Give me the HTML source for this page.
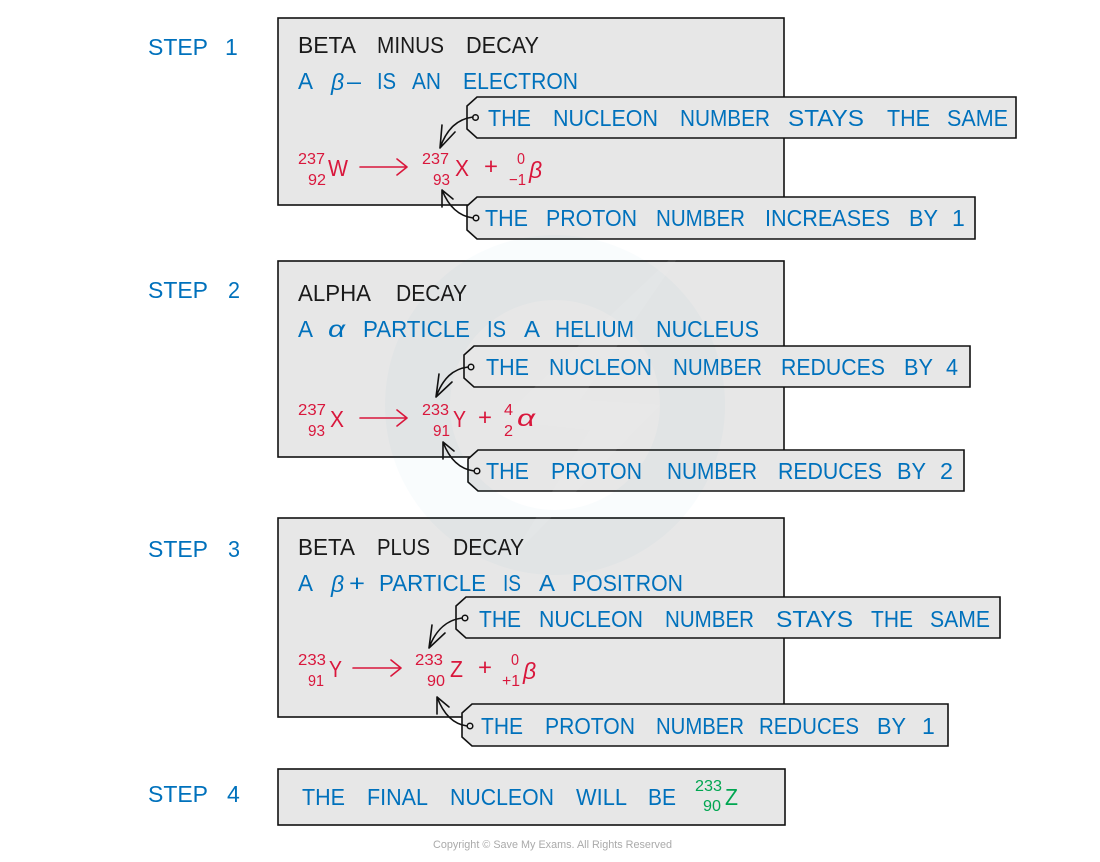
<!DOCTYPE html>
<html><head><meta charset="utf-8"><style>
html,body{margin:0;padding:0;background:#fff;width:1100px;height:862px;overflow:hidden}
svg{display:block}
text{font-family:"Liberation Sans",sans-serif;font-size:23px}
.b text{fill:#0071bc}.k text{fill:#1a1a1a}.r text{fill:#d9173c}.g text{fill:#00a651}
.s{font-size:16px!important}
.box{fill:#e7e7e7;stroke:#111;stroke-width:1.6}
.ln{fill:none;stroke:#111;stroke-width:1.6;stroke-linecap:round;stroke-linejoin:round}
.ar{fill:none;stroke:#d9173c;stroke-width:1.6;stroke-linecap:round;stroke-linejoin:round}
.dot{fill:none;stroke:#111;stroke-width:1.5}
</style></head><body>
<svg width="1100" height="862" viewBox="0 0 1100 862" xmlns="http://www.w3.org/2000/svg">
<rect class="box" x="278" y="18" width="506" height="187"/>
<rect class="box" x="278" y="261" width="506" height="196"/>
<rect class="box" x="278" y="518" width="506" height="199"/>
<rect class="box" x="278" y="769" width="507" height="56"/>
<polygon class="box" points="477,97 1016,97 1016,138 477,138 467,129 467,106"/>
<polygon class="box" points="477,197 975,197 975,239 477,239 467,230 467,206"/>
<polygon class="box" points="474,346 970,346 970,387 474,387 464,378 464,355"/>
<polygon class="box" points="478,450 964,450 964,491 478,491 468,482 468,459"/>
<polygon class="box" points="466,597 1000,597 1000,638 466,638 456,629 456,606"/>
<polygon class="box" points="472,704 948,704 948,746 472,746 462,737 462,713"/>

<g fill="#20a0a8" opacity=".028">
<path fill-rule="evenodd" d="M555 235a170 170 0 1 0 .1 0ZM555 300a105 105 0 1 1 -.1 0Z"/>
</g>
<polygon fill="#fff" opacity=".08" points="690 240 580 400 660 405 510 560 590 430 500 420"/>

<g class="b">
<text x="148" y="55" textLength="60" lengthAdjust="spacingAndGlyphs">STEP</text><text x="225" y="55">1</text>
<text x="148" y="298" textLength="60" lengthAdjust="spacingAndGlyphs">STEP</text><text x="228" y="298" textLength="12" lengthAdjust="spacingAndGlyphs">2</text>
<text x="148" y="557" textLength="60" lengthAdjust="spacingAndGlyphs">STEP</text><text x="228" y="557" textLength="12" lengthAdjust="spacingAndGlyphs">3</text>
<text x="148" y="802" textLength="60" lengthAdjust="spacingAndGlyphs">STEP</text><text x="227" y="802">4</text>

<text x="298" y="89" textLength="15" lengthAdjust="spacingAndGlyphs">A</text><text x="331" y="90" font-style="italic">β</text><text x="347" y="89" textLength="14" lengthAdjust="spacingAndGlyphs">–</text><text x="377" y="89" textLength="19" lengthAdjust="spacingAndGlyphs">IS</text><text x="412" y="89" textLength="29" lengthAdjust="spacingAndGlyphs">AN</text><text x="463" y="89" textLength="115" lengthAdjust="spacingAndGlyphs">ELECTRON</text>
<text x="488" y="126" textLength="43" lengthAdjust="spacingAndGlyphs">THE</text><text x="553" y="126" textLength="105" lengthAdjust="spacingAndGlyphs">NUCLEON</text><text x="680" y="126" textLength="90" lengthAdjust="spacingAndGlyphs">NUMBER</text><text x="788" y="126" textLength="76" lengthAdjust="spacingAndGlyphs">STAYS</text><text x="887" y="126" textLength="43" lengthAdjust="spacingAndGlyphs">THE</text><text x="947" y="126" textLength="61" lengthAdjust="spacingAndGlyphs">SAME</text>
<text x="485" y="226" textLength="43" lengthAdjust="spacingAndGlyphs">THE</text><text x="546" y="226" textLength="91" lengthAdjust="spacingAndGlyphs">PROTON</text><text x="656" y="226" textLength="89" lengthAdjust="spacingAndGlyphs">NUMBER</text><text x="765" y="226" textLength="125" lengthAdjust="spacingAndGlyphs">INCREASES</text><text x="909" y="226" textLength="29" lengthAdjust="spacingAndGlyphs">BY</text><text x="952" y="226">1</text>

<text x="298" y="337" textLength="15" lengthAdjust="spacingAndGlyphs">A</text><text x="328" y="337" textLength="17" lengthAdjust="spacingAndGlyphs" font-style="italic">α</text><text x="363" y="337" textLength="107" lengthAdjust="spacingAndGlyphs">PARTICLE</text><text x="487" y="337" textLength="19" lengthAdjust="spacingAndGlyphs">IS</text><text x="524" y="337" textLength="16" lengthAdjust="spacingAndGlyphs">A</text><text x="555" y="337" textLength="79" lengthAdjust="spacingAndGlyphs">HELIUM</text><text x="656" y="337" textLength="103" lengthAdjust="spacingAndGlyphs">NUCLEUS</text>
<text x="486" y="375" textLength="43" lengthAdjust="spacingAndGlyphs">THE</text><text x="549" y="375" textLength="103" lengthAdjust="spacingAndGlyphs">NUCLEON</text><text x="673" y="375" textLength="89" lengthAdjust="spacingAndGlyphs">NUMBER</text><text x="781" y="375" textLength="104" lengthAdjust="spacingAndGlyphs">REDUCES</text><text x="904" y="375" textLength="29" lengthAdjust="spacingAndGlyphs">BY</text><text x="946" y="375" textLength="12" lengthAdjust="spacingAndGlyphs">4</text>
<text x="486" y="479" textLength="43" lengthAdjust="spacingAndGlyphs">THE</text><text x="551" y="479" textLength="91" lengthAdjust="spacingAndGlyphs">PROTON</text><text x="667" y="479" textLength="90" lengthAdjust="spacingAndGlyphs">NUMBER</text><text x="778" y="479" textLength="104" lengthAdjust="spacingAndGlyphs">REDUCES</text><text x="897" y="479" textLength="29" lengthAdjust="spacingAndGlyphs">BY</text><text x="940" y="479" textLength="13" lengthAdjust="spacingAndGlyphs">2</text>

<text x="298" y="591" textLength="15" lengthAdjust="spacingAndGlyphs">A</text><text x="331" y="592" font-style="italic">β</text><text x="349" y="591" textLength="16" lengthAdjust="spacingAndGlyphs">+</text><text x="379" y="591" textLength="107" lengthAdjust="spacingAndGlyphs">PARTICLE</text><text x="503" y="591" textLength="18" lengthAdjust="spacingAndGlyphs">IS</text><text x="539" y="591" textLength="16" lengthAdjust="spacingAndGlyphs">A</text><text x="572" y="591" textLength="111" lengthAdjust="spacingAndGlyphs">POSITRON</text>
<text x="479" y="627" textLength="42" lengthAdjust="spacingAndGlyphs">THE</text><text x="539" y="627" textLength="104" lengthAdjust="spacingAndGlyphs">NUCLEON</text><text x="665" y="627" textLength="89" lengthAdjust="spacingAndGlyphs">NUMBER</text><text x="776" y="627" textLength="77" lengthAdjust="spacingAndGlyphs">STAYS</text><text x="871" y="627" textLength="42" lengthAdjust="spacingAndGlyphs">THE</text><text x="930" y="627" textLength="60" lengthAdjust="spacingAndGlyphs">SAME</text>
<text x="481" y="734" textLength="42" lengthAdjust="spacingAndGlyphs">THE</text><text x="545" y="734" textLength="90" lengthAdjust="spacingAndGlyphs">PROTON</text><text x="656" y="734" textLength="88" lengthAdjust="spacingAndGlyphs">NUMBER</text><text x="759" y="734" textLength="100" lengthAdjust="spacingAndGlyphs">REDUCES</text><text x="877" y="734" textLength="29" lengthAdjust="spacingAndGlyphs">BY</text><text x="922" y="734">1</text>

<text x="302" y="805" textLength="43" lengthAdjust="spacingAndGlyphs">THE</text><text x="367" y="805" textLength="61" lengthAdjust="spacingAndGlyphs">FINAL</text><text x="450" y="805" textLength="104" lengthAdjust="spacingAndGlyphs">NUCLEON</text><text x="576" y="805" textLength="51" lengthAdjust="spacingAndGlyphs">WILL</text><text x="648" y="805" textLength="28" lengthAdjust="spacingAndGlyphs">BE</text>
</g>

<g class="k">
<text x="298" y="53" textLength="58" lengthAdjust="spacingAndGlyphs">BETA</text><text x="377" y="53" textLength="67" lengthAdjust="spacingAndGlyphs">MINUS</text><text x="466" y="53" textLength="73" lengthAdjust="spacingAndGlyphs">DECAY</text>
<text x="298" y="301" textLength="73" lengthAdjust="spacingAndGlyphs">ALPHA</text><text x="396" y="301" textLength="71" lengthAdjust="spacingAndGlyphs">DECAY</text>
<text x="298" y="555" textLength="57" lengthAdjust="spacingAndGlyphs">BETA</text><text x="377" y="555" textLength="53" lengthAdjust="spacingAndGlyphs">PLUS</text><text x="453" y="555" textLength="71" lengthAdjust="spacingAndGlyphs">DECAY</text>
</g>

<g class="r">
<text class="s" x="298" y="164" textLength="27" lengthAdjust="spacingAndGlyphs">237</text><text class="s" x="308" y="185" textLength="18" lengthAdjust="spacingAndGlyphs">92</text><text x="328" y="176" textLength="20" lengthAdjust="spacingAndGlyphs">W</text>
<text class="s" x="422" y="164" textLength="27" lengthAdjust="spacingAndGlyphs">237</text><text class="s" x="433" y="185" textLength="17" lengthAdjust="spacingAndGlyphs">93</text><text x="455" y="176" textLength="14" lengthAdjust="spacingAndGlyphs">X</text>
<text x="484" y="174" textLength="14" lengthAdjust="spacingAndGlyphs">+</text><text class="s" x="517" y="164" textLength="8" lengthAdjust="spacingAndGlyphs">0</text><text class="s" x="509" y="185" textLength="17" lengthAdjust="spacingAndGlyphs">−1</text><text x="529" y="178" font-style="italic">β</text>

<text class="s" x="298" y="415" textLength="28" lengthAdjust="spacingAndGlyphs">237</text><text class="s" x="308" y="436" textLength="17" lengthAdjust="spacingAndGlyphs">93</text><text x="330" y="427" textLength="14" lengthAdjust="spacingAndGlyphs">X</text>
<text class="s" x="422" y="415" textLength="27" lengthAdjust="spacingAndGlyphs">233</text><text class="s" x="433" y="436" textLength="17" lengthAdjust="spacingAndGlyphs">91</text><text x="453" y="427" textLength="13" lengthAdjust="spacingAndGlyphs">Y</text>
<text x="478" y="425" textLength="14" lengthAdjust="spacingAndGlyphs">+</text><text class="s" x="504" y="415" textLength="9" lengthAdjust="spacingAndGlyphs">4</text><text class="s" x="504" y="436" textLength="9" lengthAdjust="spacingAndGlyphs">2</text><text x="517" y="426" textLength="18" lengthAdjust="spacingAndGlyphs" font-style="italic">α</text>

<text class="s" x="298" y="665" textLength="28" lengthAdjust="spacingAndGlyphs">233</text><text class="s" x="308" y="686" textLength="16" lengthAdjust="spacingAndGlyphs">91</text><text x="329" y="677" textLength="13" lengthAdjust="spacingAndGlyphs">Y</text>
<text class="s" x="415" y="665" textLength="28" lengthAdjust="spacingAndGlyphs">233</text><text class="s" x="427" y="686" textLength="18" lengthAdjust="spacingAndGlyphs">90</text><text x="450" y="677" textLength="13" lengthAdjust="spacingAndGlyphs">Z</text>
<text x="478" y="675" textLength="14" lengthAdjust="spacingAndGlyphs">+</text><text class="s" x="511" y="665" textLength="8" lengthAdjust="spacingAndGlyphs">0</text><text class="s" x="502" y="686" textLength="18" lengthAdjust="spacingAndGlyphs">+1</text><text x="523" y="679" font-style="italic">β</text>
</g>
<g class="g">
<text class="s" x="695" y="791" textLength="27" lengthAdjust="spacingAndGlyphs">233</text><text class="s" x="703" y="811" textLength="18" lengthAdjust="spacingAndGlyphs">90</text><text x="725" y="805" textLength="13" lengthAdjust="spacingAndGlyphs">Z</text>
</g>

<path class="ar" d="M360 167H407M397 159L407 167L397 175"/>
<path class="ar" d="M360 418H407M397 410L407 418L397 426"/>
<path class="ar" d="M353 668H401M391 660L401 668L391 676"/>

<circle class="dot" cx="475.500" cy="117.500" r="2.800"/>
<path class="ln" d="M473 117C458 119 447 128 440 148M442 125L440 148L455 132"/>
<circle class="dot" cx="476" cy="218" r="2.800"/>
<path class="ln" d="M473 218C458 216 448 205 442 190M442 207L442 190L453 199"/>
<circle class="dot" cx="471" cy="367" r="2.800"/>
<path class="ln" d="M468 367C453 369 443 378 436 397M439 374L436 397L452 382"/>
<circle class="dot" cx="477" cy="471" r="2.800"/>
<path class="ln" d="M474 471C459 469 449 458 443 442M443 459L443 442L454 451"/>
<circle class="dot" cx="465" cy="618" r="2.800"/>
<path class="ln" d="M462 618C447 620 436 629 429 648M432 625L429 648L445 633"/>
<circle class="dot" cx="470" cy="726" r="2.800"/>
<path class="ln" d="M467 726C452 724 443 713 437 697M437 714L437 697L449 707"/>

<text x="433" y="848" fill="#aaa" style="font-size:11px" textLength="239" lengthAdjust="spacingAndGlyphs">Copyright © Save My Exams. All Rights Reserved</text>
</svg>
</body></html>
